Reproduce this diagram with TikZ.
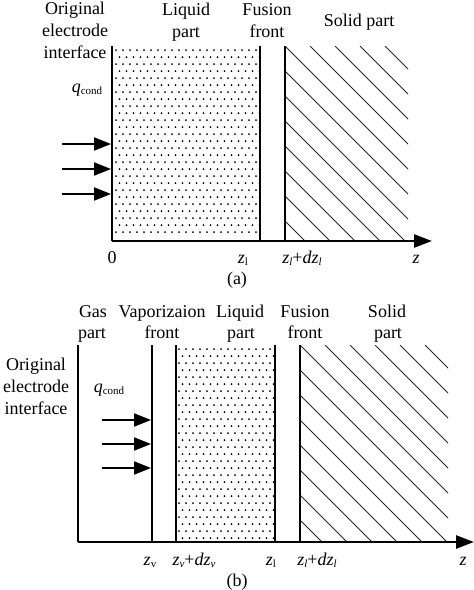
\documentclass[tikz,border=0pt]{standalone}
\usepackage{fontspec}
\setmainfont{Liberation Serif}
\usetikzlibrary{arrows.meta}
\newcommand{\mysub}[1]{\raisebox{-0.35ex}{\fontsize{11}{11}\selectfont #1}}
\begin{document}
\begin{tikzpicture}[x=1pt,y=-1pt,
  lbl/.style={font=\fontsize{18}{22}\selectfont, inner sep=0pt, anchor=base},
  wall/.style={line width=2.5pt},
  hatchline/.style={line width=1pt, black!85},
  flux/.style={line width=2pt, -{Triangle[length=17pt,width=13pt]}},
  axis/.style={line width=2.5pt, -{Triangle[length=18pt,width=13pt]}}]
\useasboundingbox (0,0) rectangle (474,590);

% ================= panel (a) =================
% dots (liquid)
\foreach \r in {0,...,26}{
  \foreach \c in {0,...,20}{
    \fill ({116+\c*7+mod(\r,2)*3.5},{50+\r*7}) circle (1.0);
  }
}
% hatch (solid)
\begin{scope}
  \clip (285,46) rectangle (408,241);
  \foreach \k in {-8,...,5}{
    \draw[hatchline] ({285+25*\k},46) -- ++(260,260);
  }
\end{scope}
% walls
\coordinate (aIT) at (112,46);
\coordinate (aO)  at (112,241);
\coordinate (aLT) at (260,46);
\coordinate (aLB) at (260,241);
\coordinate (aFT) at (285,46);
\coordinate (aFB) at (285,241);
\coordinate (aZ)  at (432,241);
\draw[wall] (aIT) -- (aO);
\draw[wall] (aLT) -- (aLB);
\draw[wall] (aFT) -- (aFB);
\draw[axis] (aO) -- (aZ);
% flux arrows
\foreach \y [count=\i] in {144,169,194}{
  \coordinate (aqs\i) at (62,\y);
  \coordinate (aqe\i) at (111,\y);
  \draw[flux] (aqs\i) -- (aqe\i);
}
% labels
\node[lbl] (oa1) at (75,14) {Original};
\node[lbl] (oa2) at (75,36) {electrode};
\node[lbl] (oa3) at (75,58) {interface};
\node[lbl] (la1) at (186,15) {Liquid};
\node[lbl] (la2) at (186,37) {part};
\node[lbl] (fa1) at (267,15) {Fusion};
\node[lbl] (fa2) at (267,37) {front};
\node[lbl] (sa)  at (359,26) {Solid part};
\node[lbl] (qa)  at (87,92) {\textit{q}\mysub{cond}};
\node[lbl] (za0) at (112,263) {0};
\node[lbl] (za1) at (243,263) {\textit{z}\mysub{l}};
\node[lbl] (za2) at (302,263) {\textit{z}\mysub{\textit{l}}+\textit{dz}\mysub{\textit{l}}};
\node[lbl] (za3) at (416,263) {\textit{z}};
\node[lbl] (capa) at (237,284) {(a)};

% ================= panel (b) =================
\foreach \r in {0,...,27}{
  \foreach \c in {0,...,13}{
    \fill ({179+\c*7+mod(\r,2)*3.5},{349+\r*7}) circle (1.0);
  }
}
\begin{scope}
  \clip (300,345) rectangle (448,542);
  \foreach \k in {-8,...,6}{
    \draw[hatchline] ({300+25*\k},345) -- ++(260,260);
  }
\end{scope}
\coordinate (bIT) at (78,345);
\coordinate (bO)  at (78,542);
\coordinate (bVT) at (152,345);
\coordinate (bVB) at (152,542);
\coordinate (bDT) at (176,345);
\coordinate (bDB) at (176,542);
\coordinate (bLT) at (275,345);
\coordinate (bLB) at (275,542);
\coordinate (bFT) at (300,345);
\coordinate (bFB) at (300,542);
\coordinate (bZ)  at (474,542);
\draw[wall] (bIT) -- (bO);
\draw[wall] (bVT) -- (bVB);
\draw[wall] (bDT) -- (bDB);
\draw[wall] (bLT) -- (bLB);
\draw[wall] (bFT) -- (bFB);
\draw[axis] (bO) -- (bZ);
\foreach \y [count=\i] in {420,444,468}{
  \coordinate (bqs\i) at (102,\y);
  \coordinate (bqe\i) at (151,\y);
  \draw[flux] (bqs\i) -- (bqe\i);
}
\node[lbl] (ob1) at (36,370) {Original};
\node[lbl] (ob2) at (36,392) {electrode};
\node[lbl] (ob3) at (36,414) {interface};
\node[lbl] (gb1) at (93,317) {Gas};
\node[lbl] (gb2) at (92,338) {part};
\node[lbl] (vb1) at (162,317) {Vaporizaion};
\node[lbl] (vb2) at (162,338) {front};
\node[lbl] (lb1) at (240,317) {Liquid};
\node[lbl] (lb2) at (241,338) {part};
\node[lbl] (fb1) at (305,317) {Fusion};
\node[lbl] (fb2) at (305,338) {front};
\node[lbl] (sb1) at (387,317) {Solid};
\node[lbl] (sb2) at (388,338) {part};
\node[lbl] (qb)  at (109,392) {\textit{q}\mysub{cond}};
\node[lbl] (zb1) at (150,565) {\textit{z}\mysub{v}};
\node[lbl] (zb2) at (194,565) {\textit{z}\mysub{\textit{v}}+\textit{dz}\mysub{\textit{v}}};
\node[lbl] (zb3) at (271,565) {\textit{z}\mysub{l}};
\node[lbl] (zb4) at (317,565) {\textit{z}\mysub{\textit{l}}+\textit{dz}\mysub{\textit{l}}};
\node[lbl] (zb5) at (463,565) {\textit{z}};
\node[lbl] (capb) at (237,586) {(b)};
\end{tikzpicture}
\end{document}
